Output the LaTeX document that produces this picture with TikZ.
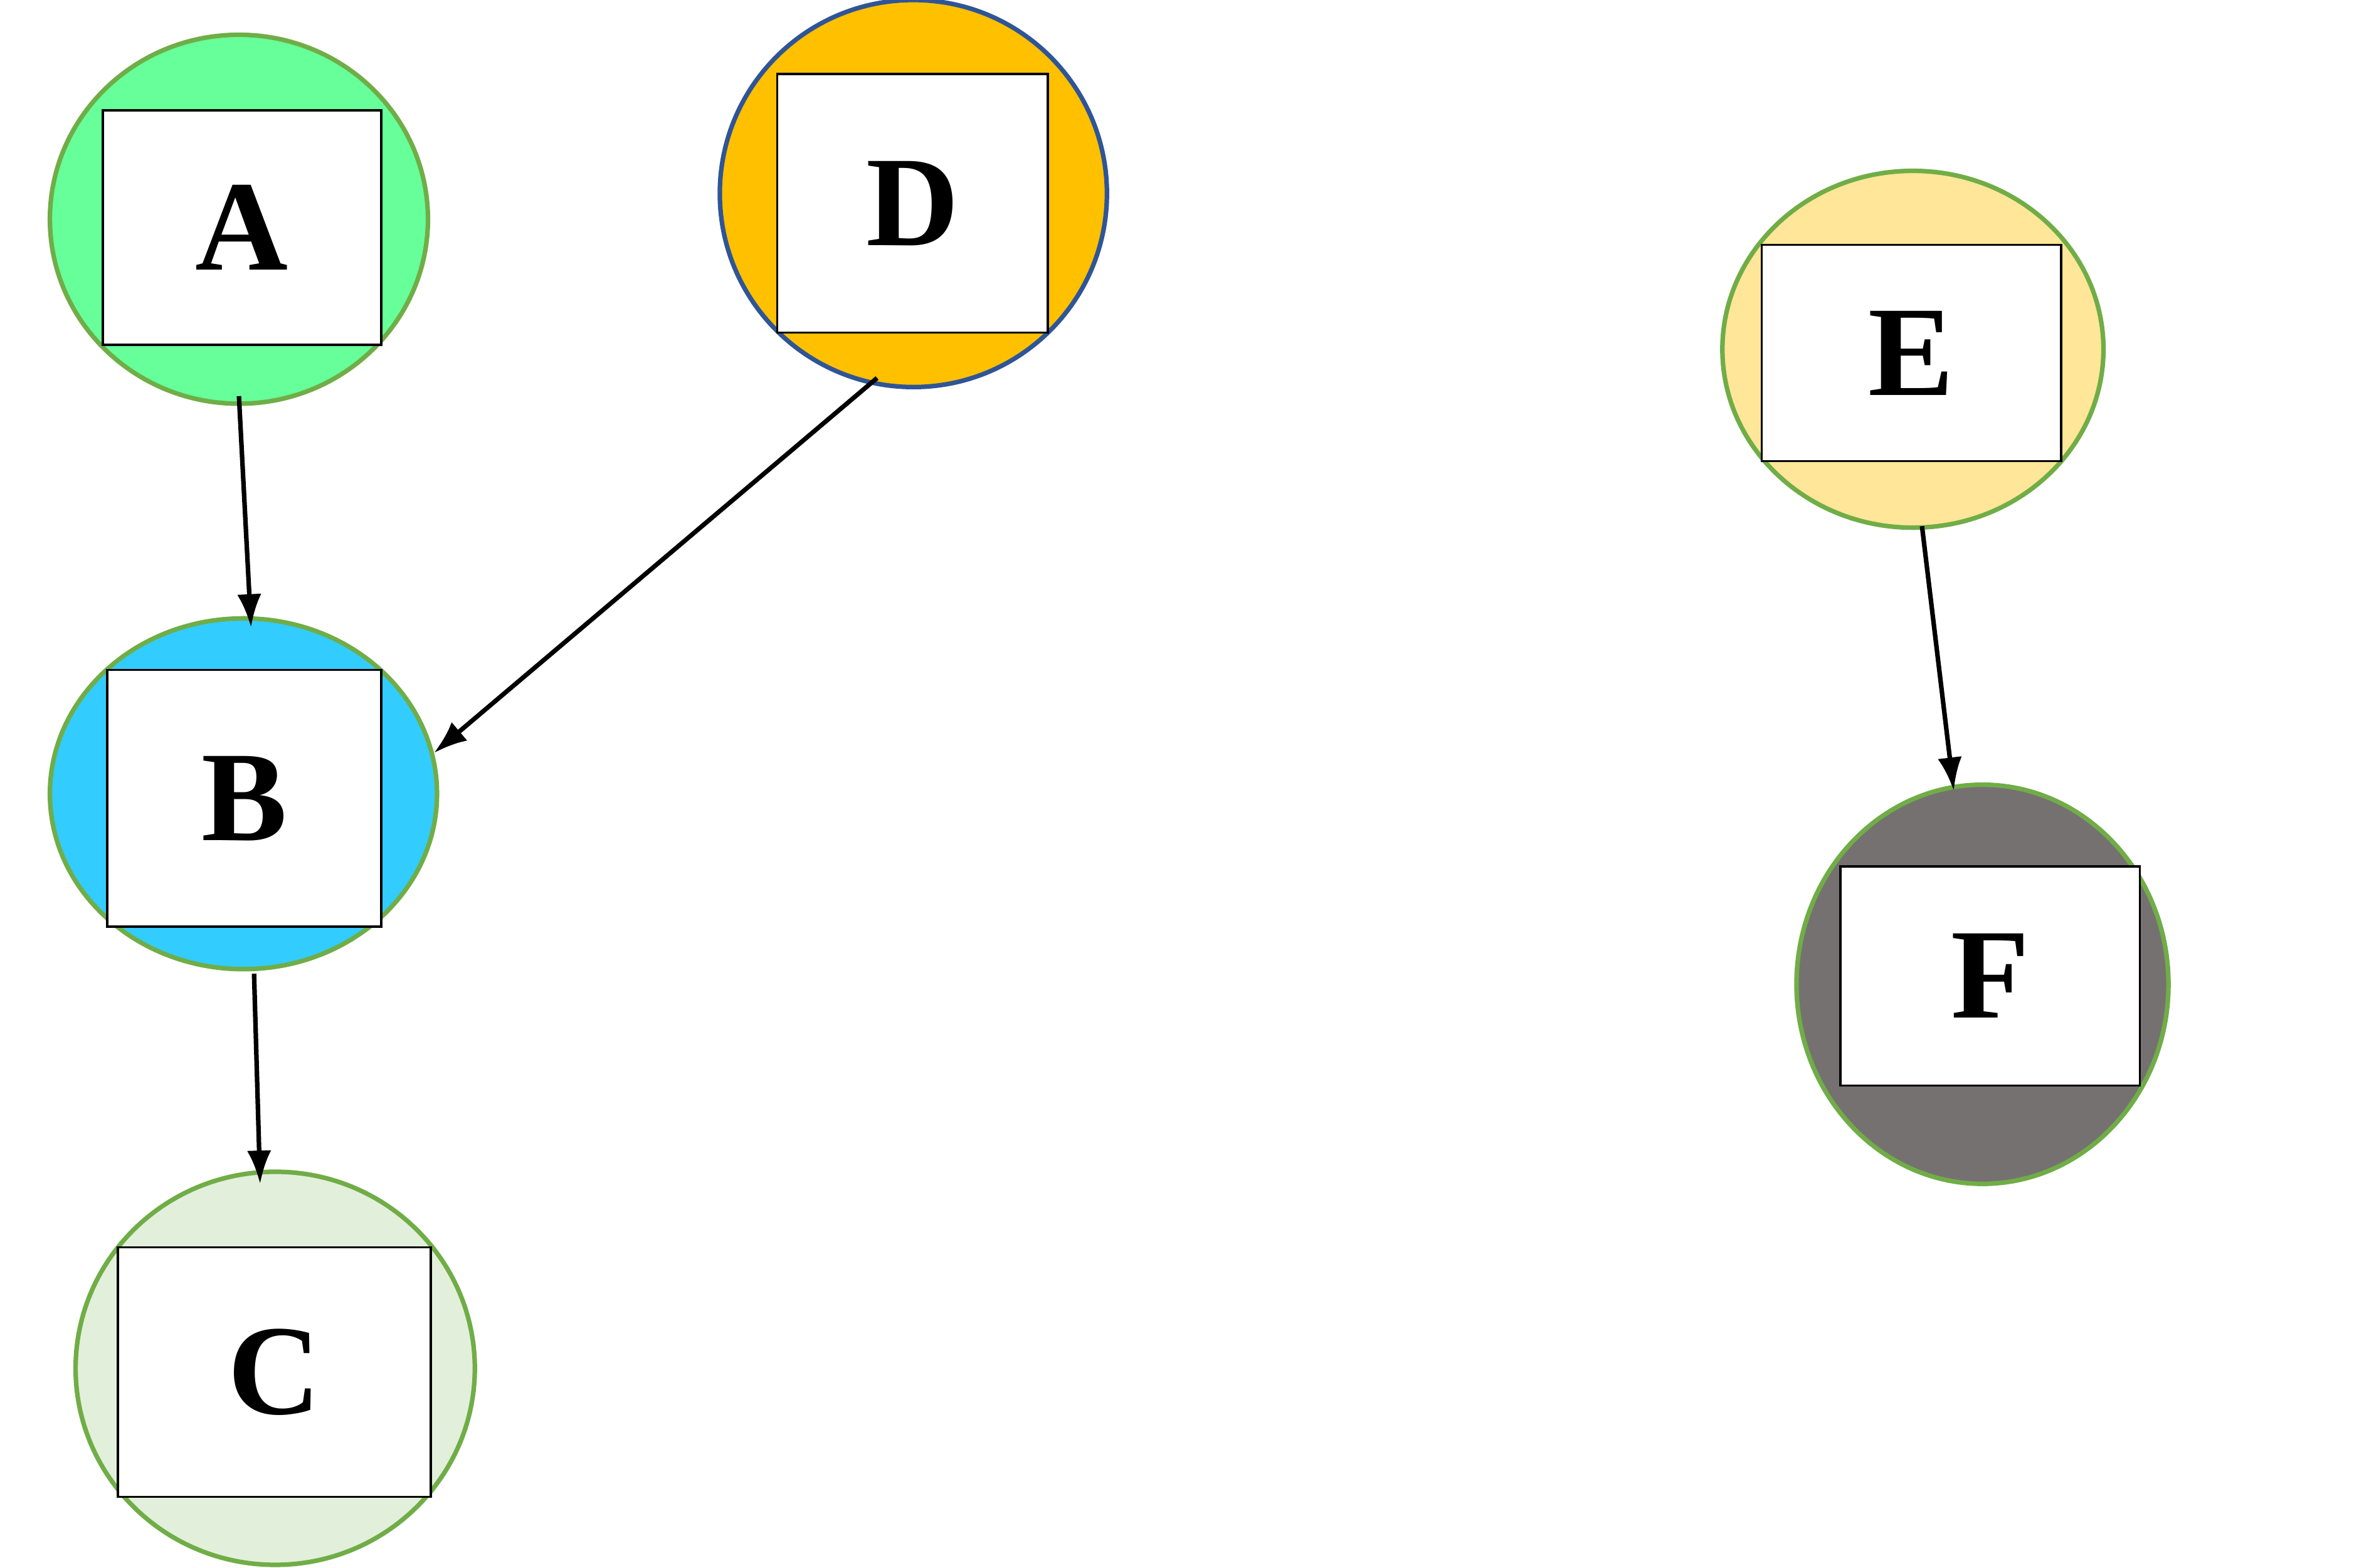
\documentclass[tikz,border=0pt]{standalone}
\usepackage{fontspec}
\setmainfont{Liberation Serif}
\usetikzlibrary{shapes.geometric,arrows.meta}
\definecolor{cA}{HTML}{66FF99}
\definecolor{cB}{HTML}{33CCFF}
\definecolor{cC}{HTML}{E2EFDA}
\definecolor{cD}{HTML}{FFC000}
\definecolor{cE}{HTML}{FFE699}
\definecolor{cF}{HTML}{767171}
\definecolor{gbord}{HTML}{70AD47}
\definecolor{bbord}{HTML}{2F5597}
\tikzset{
  blob/.style={ellipse,draw=gbord,line width=3pt,inner sep=0pt},
  card/.style={draw=black,fill=white,line width=1.5pt,inner sep=0pt,font=\fontsize{85}{95}\selectfont\bfseries},
  link/.style={line width=3pt,-{Latex[length=22pt,width=16pt]}}
}
\begin{document}
\begin{tikzpicture}[x=1pt,y=-1pt]
\useasboundingbox (0,0) rectangle (1560,1037);
\node[blob,fill=cA,minimum width=250pt,minimum height=244pt] (eA) at (158,145) {};
\node[blob,fill=cD,draw=bbord,minimum width=256pt,minimum height=256pt] (eD) at (604,128) {};
\node[blob,fill=cE,minimum width=252pt,minimum height=236pt] (eE) at (1265,231) {};
\node[blob,fill=cB,minimum width=256pt,minimum height=232pt] (eB) at (161,525) {};
\node[blob,fill=cC,minimum width=264pt,minimum height=260pt] (eC) at (182,905) {};
\node[blob,fill=cF,minimum width=246pt,minimum height=264pt] (eF) at (1311,651) {};
\node[card,minimum width=184pt,minimum height=155pt] (A) at (160,150.5) {A};
\node[card,minimum width=179pt,minimum height=171pt] (D) at (603.5,134.5) {D};
\node[card,minimum width=198pt,minimum height=143pt] (E) at (1264,233.5) {E};
\node[card,minimum width=181pt,minimum height=170pt] (B) at (161.5,528) {B};
\node[card,minimum width=207pt,minimum height=165pt] (C) at (181.5,907.5) {C};
\node[card,minimum width=198pt,minimum height=145pt] (F) at (1316,645.5) {F};
\coordinate (a1) at (158,262); \coordinate (b1) at (166,415);
\coordinate (d1) at (580,250); \coordinate (b2) at (287,498);
\coordinate (b3) at (168,644); \coordinate (c1) at (172,783);
\coordinate (e1) at (1271,348); \coordinate (f1) at (1292,523);
\draw[link] (a1) -- (b1);
\draw[link] (d1) -- (b2);
\draw[link] (b3) -- (c1);
\draw[link] (e1) -- (f1);
\end{tikzpicture}
\end{document}
